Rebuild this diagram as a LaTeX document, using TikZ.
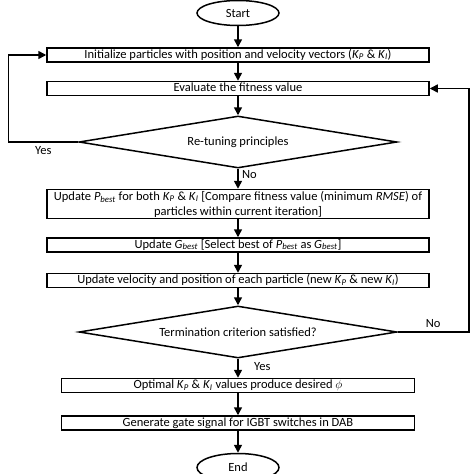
\documentclass[tikz,border=0pt]{standalone}
\usepackage{fontspec}
\setmainfont{Carlito}
\usetikzlibrary{arrows.meta, positioning, shapes.geometric}

\newcommand{\Kp}{\textit{K}\textsubscript{\textit{P}}}
\newcommand{\Ki}{\textit{K}\textsubscript{\textit{I}}}
\newcommand{\Pbest}{\textit{P}\textsubscript{\textit{best}}}
\newcommand{\Gbest}{\textit{G}\textsubscript{\textit{best}}}

\begin{document}
\begin{tikzpicture}[x=1pt, y=1pt, >={Triangle[length=8pt,width=8pt]}, line width=1.5pt,
    font=\fontsize{12.5}{14}\selectfont,
    terminal/.style={draw, ellipse, minimum width=82pt, minimum height=25pt, inner sep=0pt},
    process/.style={draw, rectangle, minimum width=382pt, minimum height=14pt, inner sep=0pt,
        text height=9pt, text depth=3pt, align=center},
    decision/.style={draw, diamond, aspect=6.1, minimum width=318pt, minimum height=52pt, inner sep=0pt}]
    \useasboundingbox (0,0) rectangle (474,-474);

    % Nodes
    \node (start) [terminal] at (238,-13) {Start};
    \node (init) [process, below=21pt of start] {Initialize particles with position and velocity vectors (\Kp{} \& \Ki)};
    \node (eval) [process, below=18pt of init] {Evaluate the fitness value};
    \node (retune) [decision, below=19pt of eval] {Re-tuning principles};
    \node (pbest) [process, minimum height=29pt, text height={}, text depth={}, font=\fontsize{12.5}{15}\selectfont,
        below=20pt of retune] {Update \Pbest{} for both \Kp{} \& \Ki{} [Compare fitness value (minimum \textit{RMSE}) of\\particles within current iteration]};
    \node (gbest) [process, below=18pt of pbest] {Update \Gbest{} [Select best of \Pbest{} as \Gbest]};
    \node (update) [process, below=20pt of gbest] {Update velocity and position of each particle (new \Kp{} \& new \Ki)};
    \node (term) [decision, below=17pt of update] {Termination criterion satisfied?};
    \node (optimal) [process, minimum width=353pt, below=19pt of term] {Optimal \Kp{} \& \Ki{} values produce desired $\phi$};
    \node (gate) [process, minimum width=353pt, below=22pt of optimal] {Generate gate signal for IGBT switches in DAB};
    \node (end) [terminal, minimum height=28pt, below=22pt of gate] {End};

    % Main flow
    \draw[->] (start) -- (init);
    \draw[->] (init) -- (eval);
    \draw[->] (eval) -- (retune);
    \draw[->] (retune) -- node[right, pos=0.3] {No} (pbest);
    \draw[->] (pbest) -- (gbest);
    \draw[->] (gbest) -- (update);
    \draw[->] (update) -- (term);
    \draw[->] (term) -- node[right, xshift=12pt, pos=0.4] {Yes} (optimal);
    \draw[->] (optimal) -- (gate);
    \draw[->] (gate) -- (end);

    % Loops back
    \draw[->] (retune.west) -- node[below] {Yes} ++(-70,0) |- (init.west);
    \draw[->] (term.east) -- node[above] {No} ++(71,0) |- (eval.east);
\end{tikzpicture}
\end{document}
